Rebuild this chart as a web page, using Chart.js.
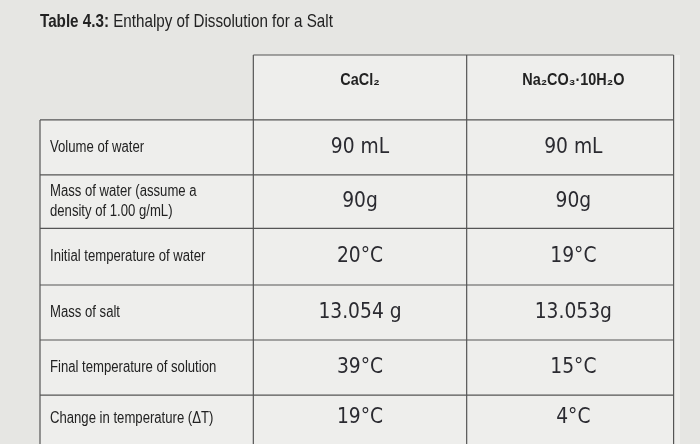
<!DOCTYPE html>
<html><head><meta charset="utf-8">
<script src="https://cdn.jsdelivr.net/npm/chart.js@4"></script>
<style>html,body{margin:0;padding:0;background:#e6e6e3;}#wrap{width:700px;height:444px;}</style>
</head><body><div id="wrap"><canvas id="c"></canvas></div>
<script>
const title = "Table 4.3: Enthalpy of Dissolution for a Salt";
const columns = ["CaCl₂", "Na₂CO₃·10H₂O"];
const rowLabels = [["Volume of water"], ["Mass of water (assume a", "density of 1.00 g/mL)"], ["Initial temperature of water"], ["Mass of salt"], ["Final temperature of solution"], ["Change in temperature (ΔT)"]];
const cacl2Values = ["90 mL", "90g", "20°C", "13.054 g", "39°C", "19°C"];
const na2co3Values = ["90 mL", "90g", "19°C", "13.053g", "15°C", "4°C"];
const colEdges = [0, 1, 2, 2.97];
const rowEdges = [0, 1.18, 2.18, 3.15, 4.18, 5.18, 6.18, 7.2];

const mid = i => (rowEdges[i] + rowEdges[i+1]) / 2;
const cellPoints = [];
rowLabels.forEach((r, i) => {
  cellPoints.push({x: 1.5, y: mid(i+1), t: cacl2Values[i]});
  cellPoints.push({x: 2.5, y: mid(i+1), t: na2co3Values[i]});
});

function narrowText(ctx, s, px, py, sx) {
  ctx.save(); ctx.translate(px, py); ctx.scale(sx, 1); ctx.fillText(s, 0, 0); ctx.restore();
}

const tablePlugin = {
  id: 'table',
  beforeDraw(chart) {
    const {ctx, scales: {x, y}} = chart;
    ctx.save();
    ctx.fillStyle = '#eeeeec';
    ctx.fillRect(x.getPixelForValue(0), y.getPixelForValue(rowEdges[1]), x.getPixelForValue(3) - x.getPixelForValue(0), 400);
    ctx.fillRect(x.getPixelForValue(1), y.getPixelForValue(0), x.getPixelForValue(3) - x.getPixelForValue(1), 80);
    ctx.restore();
  },
  afterDraw(chart) {
    const {ctx, scales: {x, y}} = chart;
    ctx.save();
    ctx.strokeStyle = '#555';
    ctx.lineWidth = 1.2;
    const X = v => x.getPixelForValue(v), Y = v => y.getPixelForValue(v);
    ctx.beginPath(); ctx.moveTo(X(1), Y(0)); ctx.lineTo(X(colEdges[3]), Y(0)); ctx.stroke();
    for (let i = 1; i < rowEdges.length - 1; i++) {
      ctx.beginPath(); ctx.moveTo(X(0), Y(rowEdges[i])); ctx.lineTo(X(colEdges[3]), Y(rowEdges[i])); ctx.stroke();
    }
    ctx.beginPath(); ctx.moveTo(X(0), Y(rowEdges[1])); ctx.lineTo(X(0), Y(7.2)); ctx.stroke();
    for (let j = 1; j < colEdges.length; j++) {
      ctx.beginPath(); ctx.moveTo(X(colEdges[j]), Y(0)); ctx.lineTo(X(colEdges[j]), Y(7.2)); ctx.stroke();
    }
    ctx.fillStyle = '#222';
    ctx.textBaseline = 'middle';
    ctx.textAlign = 'left';
    ctx.font = 'bold 19px "Liberation Sans", sans-serif';
    narrowText(ctx, "Table 4.3:", 40, 22, 0.8);
    const w = ctx.measureText("Table 4.3: ").width * 0.8;
    ctx.font = '19px "Liberation Sans", sans-serif';
    narrowText(ctx, "Enthalpy of Dissolution for a Salt", 40 + w, 22, 0.8);
    ctx.font = 'bold 17px "Liberation Sans", sans-serif';
    ctx.textAlign = 'center';
    columns.forEach((c, j) => narrowText(ctx, c, X(1.5 + j), Y(0.6) - 8, 0.85));
    ctx.textAlign = 'left';
    ctx.font = '16px "Liberation Sans", sans-serif';
    rowLabels.forEach((lines, i) => {
      const cy = Y(mid(i+1)) + (i === 5 ? -4 : 0);
      lines.forEach((l, k) => narrowText(ctx, l, X(0) + 10, cy + (k - (lines.length-1)/2) * 20, 0.82));
    });
    ctx.textAlign = 'center';
    ctx.font = '22px "DejaVu Sans", sans-serif';
    ctx.fillStyle = '#2a2a30';
    const meta = chart.getDatasetMeta(0);
    meta.data.forEach((pt, k) => {
      const yy = pt.y + (k >= 10 ? -6 : 0);
      narrowText(ctx, cellPoints[k].t, pt.x, yy, 0.85);
    });
    ctx.restore();
  }
};

new Chart(document.getElementById('c'), {
  type: 'scatter',
  data: { datasets: [{ data: cellPoints, pointRadius: 0, pointHoverRadius: 0 }] },
  options: {
    responsive: true, maintainAspectRatio: false, animation: false,
    layout: { padding: { left: 40, right: 20, top: 55, bottom: 0 } },
    plugins: { legend: { display: false }, tooltip: { enabled: false } },
    scales: {
      x: { type: 'linear', min: 0, max: 3, display: false },
      y: { type: 'linear', min: 0, max: 7.07, reverse: true, display: false }
    }
  },
  plugins: [tablePlugin]
});
</script></body></html>
